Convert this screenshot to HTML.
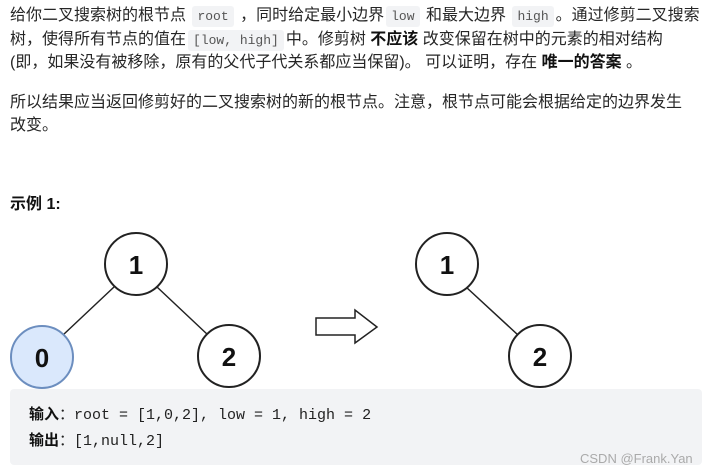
<!DOCTYPE html>
<html><head><meta charset="utf-8"><style>
body{margin:0;width:713px;height:475px;background:#fff;position:relative;overflow:hidden;font-family:"Liberation Sans","Noto Sans CJK SC",sans-serif;color:#262626;font-size:16px}
.l{position:absolute;left:10px;white-space:nowrap;line-height:23px}
code{font-family:"Liberation Mono","Noto Sans CJK SC",monospace;font-size:13px;background:#f2f3f5;color:#555;padding:3px 5px;border-radius:3px;margin:0 2px}
b{font-weight:bold;color:#111}
.cb{position:absolute;left:10px;top:389px;width:692px;height:76px;background:#f2f3f5;border-radius:4px}
.cl{position:absolute;left:29px;font-family:"Liberation Mono","Noto Sans CJK SC",monospace;font-size:15px;color:#222;white-space:nowrap}
</style></head><body>
<div class="l" style="top:4px">给你二叉搜索树的根节点 <code>root</code> ，同时给定最小边界<code>low</code> 和最大边界 <code>high</code>。通过修剪二叉搜索</div>
<div class="l" style="top:28px">树，使得所有节点的值在<code>[low, high]</code>中。修剪树 <b>不应该</b> 改变保留在树中的元素的相对结构</div>
<div class="l" style="top:51px">(即，如果没有被移除，原有的父代子代关系都应当保留)。 可以证明，存在 <b>唯一的答案</b> 。</div>
<div class="l" style="top:91px">所以结果应当返回修剪好的二叉搜索树的新的根节点。注意，根节点可能会根据给定的边界发生</div>
<div class="l" style="top:114px">改变。</div>
<div class="l" style="top:193px"><b>示例 1:</b></div>
<svg style="position:absolute;left:0;top:0" width="713" height="475">
<g stroke="#222" stroke-width="1.5" fill="none">
<line x1="114" y1="287" x2="63" y2="335"/><line x1="157" y1="287" x2="208" y2="335"/>
<line x1="466" y1="287" x2="518" y2="335"/>
</g>
<g stroke="#222" stroke-width="2" fill="#fff">
<circle cx="136" cy="264" r="31"/><circle cx="229" cy="356" r="31"/>
<circle cx="447" cy="264" r="31"/><circle cx="540" cy="356" r="31"/>
</g>
<circle cx="42" cy="357" r="31" fill="#dae8fc" stroke="#6c8ebf" stroke-width="2"/>
<polygon points="316,318 355,318 355,310 377,327 355,343 355,335 316,335" fill="#fff" stroke="#222" stroke-width="1.5"/>
<g font-family="Liberation Sans" font-weight="bold" font-size="26" text-anchor="middle" fill="#111">
<text x="136" y="274">1</text><text x="42" y="367">0</text><text x="229" y="366">2</text>
<text x="447" y="274">1</text><text x="540" y="366">2</text>
</g>
</svg>
<div class="cb"></div>
<div class="cl" style="top:403px"><b>输入</b>：root = [1,0,2], low = 1, high = 2</div>
<div class="cl" style="top:429px"><b>输出</b>：[1,null,2]</div>
<div style="position:absolute;left:580px;top:451px;font-size:13px;color:#aaa">CSDN @Frank.Yan</div>
</body></html>
